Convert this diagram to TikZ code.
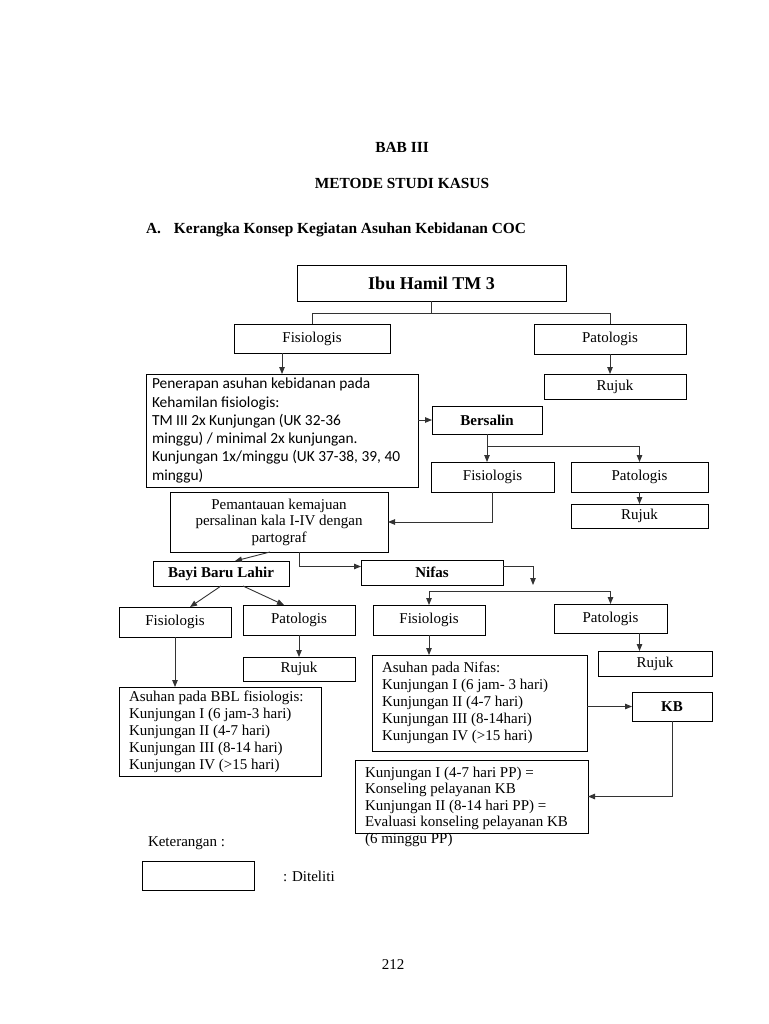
\documentclass[tikz,border=0pt]{standalone}
\usepackage{fontspec}
\setmainfont{Liberation Serif}
\newfontfamily\calibri{Carlito}
\usetikzlibrary{arrows.meta,calc}

\begin{document}
\begin{tikzpicture}[x=1pt, y=-1pt,
  every node/.style={font=\fontsize{15}{16.5}\selectfont, inner sep=0pt, outer sep=0pt},
  box/.style={draw, line width=1pt, minimum height=29pt},
  bold/.style={font=\fontsize{15}{16.5}\selectfont\bfseries},
  link/.style={draw=black!80, line width=0.9pt},
  arr/.style={link, -{Triangle[length=7pt,width=5.5pt]}}]
\useasboundingbox[fill=white] (0,0) rectangle (768,1024);

\node[bold, font=\fontsize{15.4}{17}\selectfont\bfseries] (bab) at (402,147) {BAB III};
\node[bold, font=\fontsize{15.4}{17}\selectfont\bfseries] (metode) at (402,183) {METODE STUDI KASUS};
\node[bold, anchor=west, font=\fontsize{15.4}{17}\selectfont\bfseries] (judul) at (146,230) {A.\hspace{13pt}Kerangka Konsep Kegiatan Asuhan Kebidanan COC};

\node[box, minimum width=269pt, minimum height=36pt, font=\fontsize{18}{20}\selectfont\bfseries] (ibu) at (431.5,283) {Ibu Hamil TM 3};
\node[box, minimum width=156pt] (fis1) at (312,338.5) {Fisiologis};
\node[box, minimum width=152pt, minimum height=30pt] (pat1) at (610,339) {Patologis};
\node[box, minimum width=142pt, minimum height=25pt] (rujuk1) at (615,386.5) {Rujuk};
\node[box, minimum width=272pt, minimum height=113pt, text width=260pt, align=flush left, inner xsep=6pt, font=\calibri\fontsize{15.4}{18.3}\selectfont] (pen) at (282,430.5) {Penerapan asuhan kebidanan pada\\ Kehamilan fisiologis:\\ TM III 2x Kunjungan (UK 32-36\\ minggu) / minimal 2x kunjungan.\\ Kunjungan 1x/minggu (UK 37-38, 39, 40\\ minggu)};

\node[box, bold, minimum width=110pt, minimum height=28pt] (bersalin) at (487,420) {Bersalin};
\node[box, minimum width=123pt, minimum height=30pt] (fis2) at (492.5,477) {Fisiologis};
\node[box, minimum width=137pt, minimum height=30pt] (pat2) at (639.5,477) {Patologis};
\node[box, minimum width=137pt, minimum height=24pt] (rujuk2) at (639.5,516) {Rujuk};
\node[box, minimum width=218pt, minimum height=60pt, align=center] (pem) at (279,522) {Pemantauan kemajuan\\ persalinan kala I-IV dengan\\ partograf};

\node[box, bold, minimum width=136pt, minimum height=25pt] (bbl) at (221,573.5) {Bayi Baru Lahir};
\node[box, minimum width=112pt, minimum height=30pt] (fis4) at (175,622) {Fisiologis};
\node[box, minimum width=112pt, minimum height=30pt] (pat4) at (299,620) {Patologis};
\node[box, minimum width=112pt, minimum height=24pt] (rujuk4) at (299,669) {Rujuk};
\node[box, minimum width=202pt, minimum height=89pt, text width=182pt, align=flush left, inner xsep=10pt, font=\fontsize{15}{17}\selectfont] (bblbox) at (220,731.5) {Asuhan pada BBL fisiologis:\\ Kunjungan I (6 jam-3 hari)\\ Kunjungan II (4-7 hari)\\ Kunjungan III (8-14 hari)\\ Kunjungan IV (>15 hari)};

\node[box, bold, minimum width=142pt, minimum height=25pt] (nifas) at (432,572.5) {Nifas};
\node[box, minimum width=112pt, minimum height=30pt] (fis3) at (429,620) {Fisiologis};
\node[box, minimum width=113pt, minimum height=29pt] (pat3) at (610.5,618.5) {Patologis};
\node[box, minimum width=114pt, minimum height=25pt] (rujuk3) at (655,663.5) {Rujuk};
\node[box, minimum width=215pt, minimum height=96pt, text width=195pt, align=flush left, inner xsep=10pt, font=\fontsize{15}{17}\selectfont] (asnifas) at (479.5,703) {Asuhan pada Nifas:\\ Kunjungan I (6 jam- 3 hari)\\ Kunjungan II (4-7 hari)\\ Kunjungan III (8-14hari)\\ Kunjungan IV (>15 hari)};
\node[box, bold, minimum width=80pt, minimum height=29pt] (kb) at (672,706.5) {KB};
\node[box, minimum width=233pt, minimum height=73pt] (kbbox) at (471.5,796.5) {};
\node[anchor=north west, align=flush left, font=\fontsize{15}{16.5}\selectfont] (kbtext) at (365,767) {Kunjungan I (4-7 hari PP) =\\ Konseling pelayanan KB\\ Kunjungan II (8-14 hari PP) =\\ Evaluasi konseling pelayanan KB\\ (6 minggu PP)};

\node[anchor=west] (ket) at (148,843) {Keterangan :};
\node[box, minimum width=112pt, minimum height=29pt] (legend) at (198,875.5) {};
\node[anchor=west] (diteliti) at (283,876) {: Diteliti};
\node (hal) at (393,965) {212};

\coordinate (p1) at ([xshift=29pt]pat3.south);
\coordinate (nifasend) at (533,585);
\coordinate (nifasfork) at (519,591);

\draw[link] (ibu.south) -- ++(0,12) -| (fis1.north);
\draw[link] (ibu.south) -- ++(0,12) -| (pat1.north);
\draw[arr] (fis1.south -| pen.north) -- (pen.north);
\draw[arr] (pat1.south) -- (pat1.south |- rujuk1.north);
\draw[arr] (pen.east |- bersalin.west) -- (bersalin.west);
\draw[arr] (bersalin.south) -- (bersalin.south |- fis2.north);
\draw[arr] (bersalin.south) -- ++(0,12) -| (pat2.north);
\draw[arr] (pat2.south) -- (rujuk2.north);
\draw[arr] (fis2.south) |- (pem.east);

\draw[arr] ($(pem.south)+(-9,0)$) -- ($(bbl.north)+(14,0)$);
\draw[arr] ($(pem.south)+(20,0)$) |- ($(nifas.west)+(0,-6)$);
\draw[arr] (bbl.south) -- ($(fis4.north)+(15,0)$);
\draw[arr] ($(bbl.south)+(22,0)$) -- ($(pat4.north)+(-15,0)$);
\draw[arr] (fis4.south) -- (fis4.south |- bblbox.north);
\draw[arr] (pat4.south) -- (rujuk4.north);

\draw[arr] ($(nifas.east)+(0,-6)$) -| (nifasend);
\draw[arr] (nifasfork) -| (fis3.north);
\draw[arr] (nifasfork) -| (pat3.north);
\draw[arr] (fis3.south) -- (fis3.south |- asnifas.north);
\draw[arr] (p1) -- (p1 |- rujuk3.north);
\draw[arr] (asnifas.east |- kb.west) -- (kb.west);
\draw[arr] (kb.south) |- (kbbox.east);
\end{tikzpicture}
\end{document}
